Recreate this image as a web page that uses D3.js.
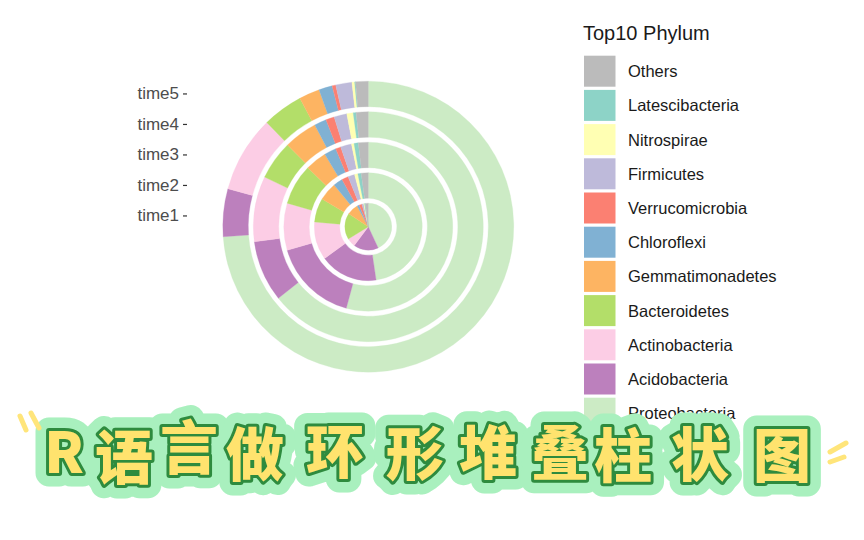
<!DOCTYPE html>
<html>
<head>
<meta charset="utf-8" />
<title>ring stacked bar</title>
<script src="https://cdn.jsdelivr.net/npm/d3@7/dist/d3.min.js"></script>
<style>
    html, body {
        margin: 0;
        padding: 0;
        background: #fff;
    }
    svg {
        display: block;
        font-family: "Liberation Sans", Arial, sans-serif;
    }
    .banner text {
        font-family: "Noto Sans CJK SC", sans-serif;
        font-weight: 900;
        text-anchor: middle;
        stroke-linejoin: round;
        paint-order: stroke;
    }
</style>
</head>
<body>
<div id="chart"></div>
<script>
    const times = ["time1", "time2", "time3", "time4", "time5"];
    // stacking order, clockwise from 12 o'clock
    const phyla = ["Proteobacteria", "Acidobacteria", "Actinobacteria", "Bacteroidetes", "Gemmatimonadetes",
        "Chloroflexi", "Verrucomicrobia", "Firmicutes", "Nitrospirae", "Latescibacteria", "Others"];
    const colors = ["#CCEBC5", "#BC80BD", "#FCCDE5", "#B3DE69", "#FDB462",
        "#80B1D3", "#FB8072", "#BEBADA", "#FFFFB3", "#8DD3C7", "#BBBBBB"];

    // relative abundance (%), same order as phyla
    const time1 = [43.1, 17.1, 6.0, 18.1, 7.8, 1.5, 2.0, 1.2, 0.6, 0.6, 2.0];
    const time2 = [47.7, 17.3, 11.4, 7.2, 5.5, 2.8, 2.0, 2.0, 1.0, 1.0, 2.1];
    const time3 = [54.2, 16.3, 9.0, 7.8, 4.1, 2.3, 1.0, 2.1, 0.5, 0.8, 1.9];
    const time4 = [64.3, 8.6, 9.2, 5.5, 4.7, 1.7, 1.2, 1.8, 0.9, 0.4, 1.7];
    const time5 = [73.9, 5.3, 8.5, 4.5, 2.3, 1.5, 0.4, 1.8, 0.3, 0.1, 1.4];

    const legendTitle = "Top10 Phylum";
    const banner = "R语言做环形堆叠柱状图";

    const W = 864, H = 540;
    const cx = 368.3, cy = 226.7;

    const svg = d3.select("#chart").append("svg")
        .attr("width", W)
        .attr("height", H);
    svg.append("rect").attr("width", W).attr("height", H).attr("fill", "#fff");

    const rows = [time1, time2, time3, time4, time5].map(function(vals, i) {
        const o = { time: times[i] };
        phyla.forEach(function(p, j) { o[p] = vals[j]; });
        return o;
    });

    const series = d3.stack()
        .keys(phyla)
        .offset(d3.stackOffsetExpand)(rows);

    const color = d3.scaleOrdinal().domain(phyla).range(colors);
    const theta = d3.scaleLinear().domain([0, 1]).range([0, 2 * Math.PI]);
    const r = d3.scaleBand()
        .domain(times)
        .range([-4.5, 148])
        .paddingInner(1 / 6)
        .paddingOuter(1 / 12);

    const arc = d3.arc()
        .innerRadius(function(d) { return Math.max(0, r(d.data.time)); })
        .outerRadius(function(d) { return r(d.data.time) + r.bandwidth(); })
        .startAngle(function(d) { return theta(d[0]); })
        .endAngle(function(d) { return theta(d[1]); });

    const g = svg.append("g").attr("transform", `translate(${cx},${cy})`);

    g.selectAll(".layer")
        .data(series)
        .enter()
        .append("g")
        .attr("class", "layer")
        .attr("fill", function(d) { return color(d.key); })
        .selectAll("path")
        .data(function(d) { return d; })
        .enter()
        .append("path")
        .attr("d", arc)
        .attr("stroke", function() { return d3.select(this.parentNode).attr("fill"); })
        .attr("stroke-width", 0.3);

    // radial axis on the left, like ggplot's coord_polar
    const yAxisScale = r.copy().range([cy + 4.5, cy - 148]);
    const yAxis = svg.append("g")
        .attr("transform", "translate(187,0)")
        .call(d3.axisLeft(yAxisScale).tickSize(4).tickPadding(4));
    yAxis.select(".domain").remove();
    yAxis.selectAll(".tick line").attr("stroke", "#333").attr("stroke-width", 1.2);
    yAxis.selectAll(".tick text")
        .attr("fill", "#4D4D4D")
        .style("font-size", "17px")
        .style("font-family", "\"Liberation Sans\", Arial, sans-serif");

    // legend
    const legendOrder = phyla.slice().reverse();
    const legend = svg.append("g").attr("transform", "translate(583,0)");
    legend.append("text")
        .attr("x", 0)
        .attr("y", 40)
        .attr("fill", "#1a1a1a")
        .style("font-size", "20px")
        .text(legendTitle);

    const key = legend.selectAll(".key")
        .data(legendOrder)
        .enter()
        .append("g")
        .attr("class", "key")
        .attr("transform", function(d, i) { return `translate(0,${55.7 + i * 34.2})`; });
    key.append("rect")
        .attr("x", 1)
        .attr("width", 31.5)
        .attr("height", 31)
        .attr("fill", function(d) { return color(d); });
    key.append("text")
        .attr("x", 45)
        .attr("y", 21.5)
        .attr("fill", "#1a1a1a")
        .style("font-size", "16.5px")
        .text(function(d) { return d; });

    // cartoon title banner over the bottom
    const chars = Array.from(banner);
    const charX = [64, 124, 189, 255, 335, 415, 488, 560, 623, 700, 782];
    const charDy = [-3, 3, -7, 0, -3, -1, -2, -2, 1, 0, 1];
    const bn = svg.append("g").attr("class", "banner");

    function bannerLayer(stroke, width, fill) {
        bn.append("g")
            .selectAll("text")
            .data(chars)
            .enter()
            .append("text")
            .attr("x", function(d, i) { return charX[i]; })
            .attr("y", function(d, i) { return 476 + charDy[i]; })
            .attr("fill", fill)
            .attr("stroke", stroke)
            .attr("stroke-width", width)
            .style("font-size", function(d, i) { return i === 0 ? "56px" : "58px"; })
            .text(function(d) { return d; });
    }
    bannerLayer("#A9F0BE", 27, "#A9F0BE");
    bannerLayer("#2E8B3E", 6, "#FFE36E");

    // little sparkle strokes at both ends
    const sparks = [[20, 416, 26, 430], [31, 413, 39, 428], [830, 452, 846, 443], [830, 462, 844, 457]];
    svg.append("g").selectAll("line")
        .data(sparks)
        .enter()
        .append("line")
        .attr("x1", function(d) { return d[0]; })
        .attr("y1", function(d) { return d[1]; })
        .attr("x2", function(d) { return d[2]; })
        .attr("y2", function(d) { return d[3]; })
        .attr("stroke", "#FFE57A")
        .attr("stroke-width", 5)
        .attr("stroke-linecap", "round");
</script>
</body>
</html>
